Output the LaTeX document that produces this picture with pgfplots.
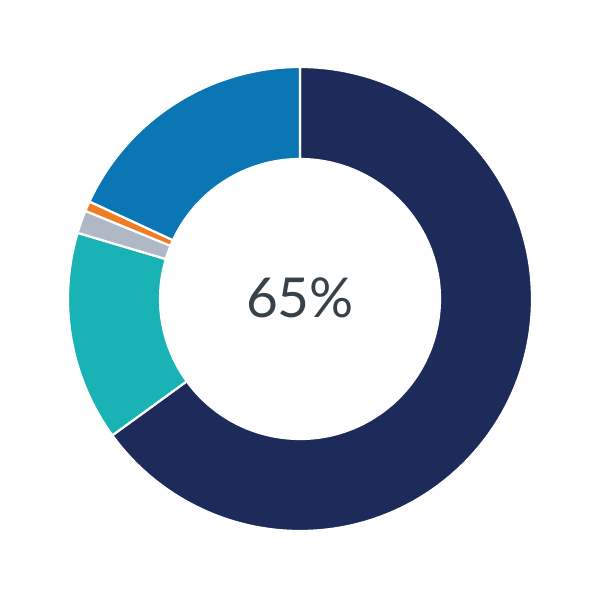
\documentclass[border=0pt]{standalone}
\usepackage{fontspec}
\setmainfont{Lato}
\usepackage{pgfplots}
\pgfplotsset{compat=1.18}
\definecolor{cnavy}{HTML}{1C2B5A}
\definecolor{cteal}{HTML}{1AB3B5}
\definecolor{cgray}{HTML}{B1B8C5}
\definecolor{corange}{HTML}{F07C24}
\definecolor{cblue}{HTML}{0A76B4}
\definecolor{ctext}{HTML}{36414A}
\begin{document}
\begin{tikzpicture}
\begin{axis}[
  x=1pt, y=1pt,
  xmin=-150, xmax=150, ymin=-150, ymax=149.5,
  hide axis, scale only axis, clip=false,
]
\path (axis cs:-150,-150) rectangle (axis cs:150,149.5);
\pgfplotsextra{%
  \def\acc{90}%
  \foreach \v/\c in {65.0/cnavy, 14.6/cteal, 1.6/cgray, 0.7/corange, 18.1/cblue}{%
    \pgfmathsetmacro\a{\acc}%
    \pgfmathsetmacro\b{\acc-3.6*\v}%
    \fill[\c, draw=white, line width=1.1pt]
      (axis cs:{116*cos(\a)},{116*sin(\a)})
      arc[start angle=\a, end angle=\b, radius=116pt]
      -- (axis cs:{70*cos(\b)},{70*sin(\b)})
      arc[start angle=\b, end angle=\a, radius=70pt] -- cycle;
    \global\let\acc\b
  }%
}
\node[text=ctext, font=\fontsize{27.5}{32}\selectfont, anchor=base] at (axis cs:0,-9.5) {65\%};
\end{axis}
\end{tikzpicture}
\end{document}
